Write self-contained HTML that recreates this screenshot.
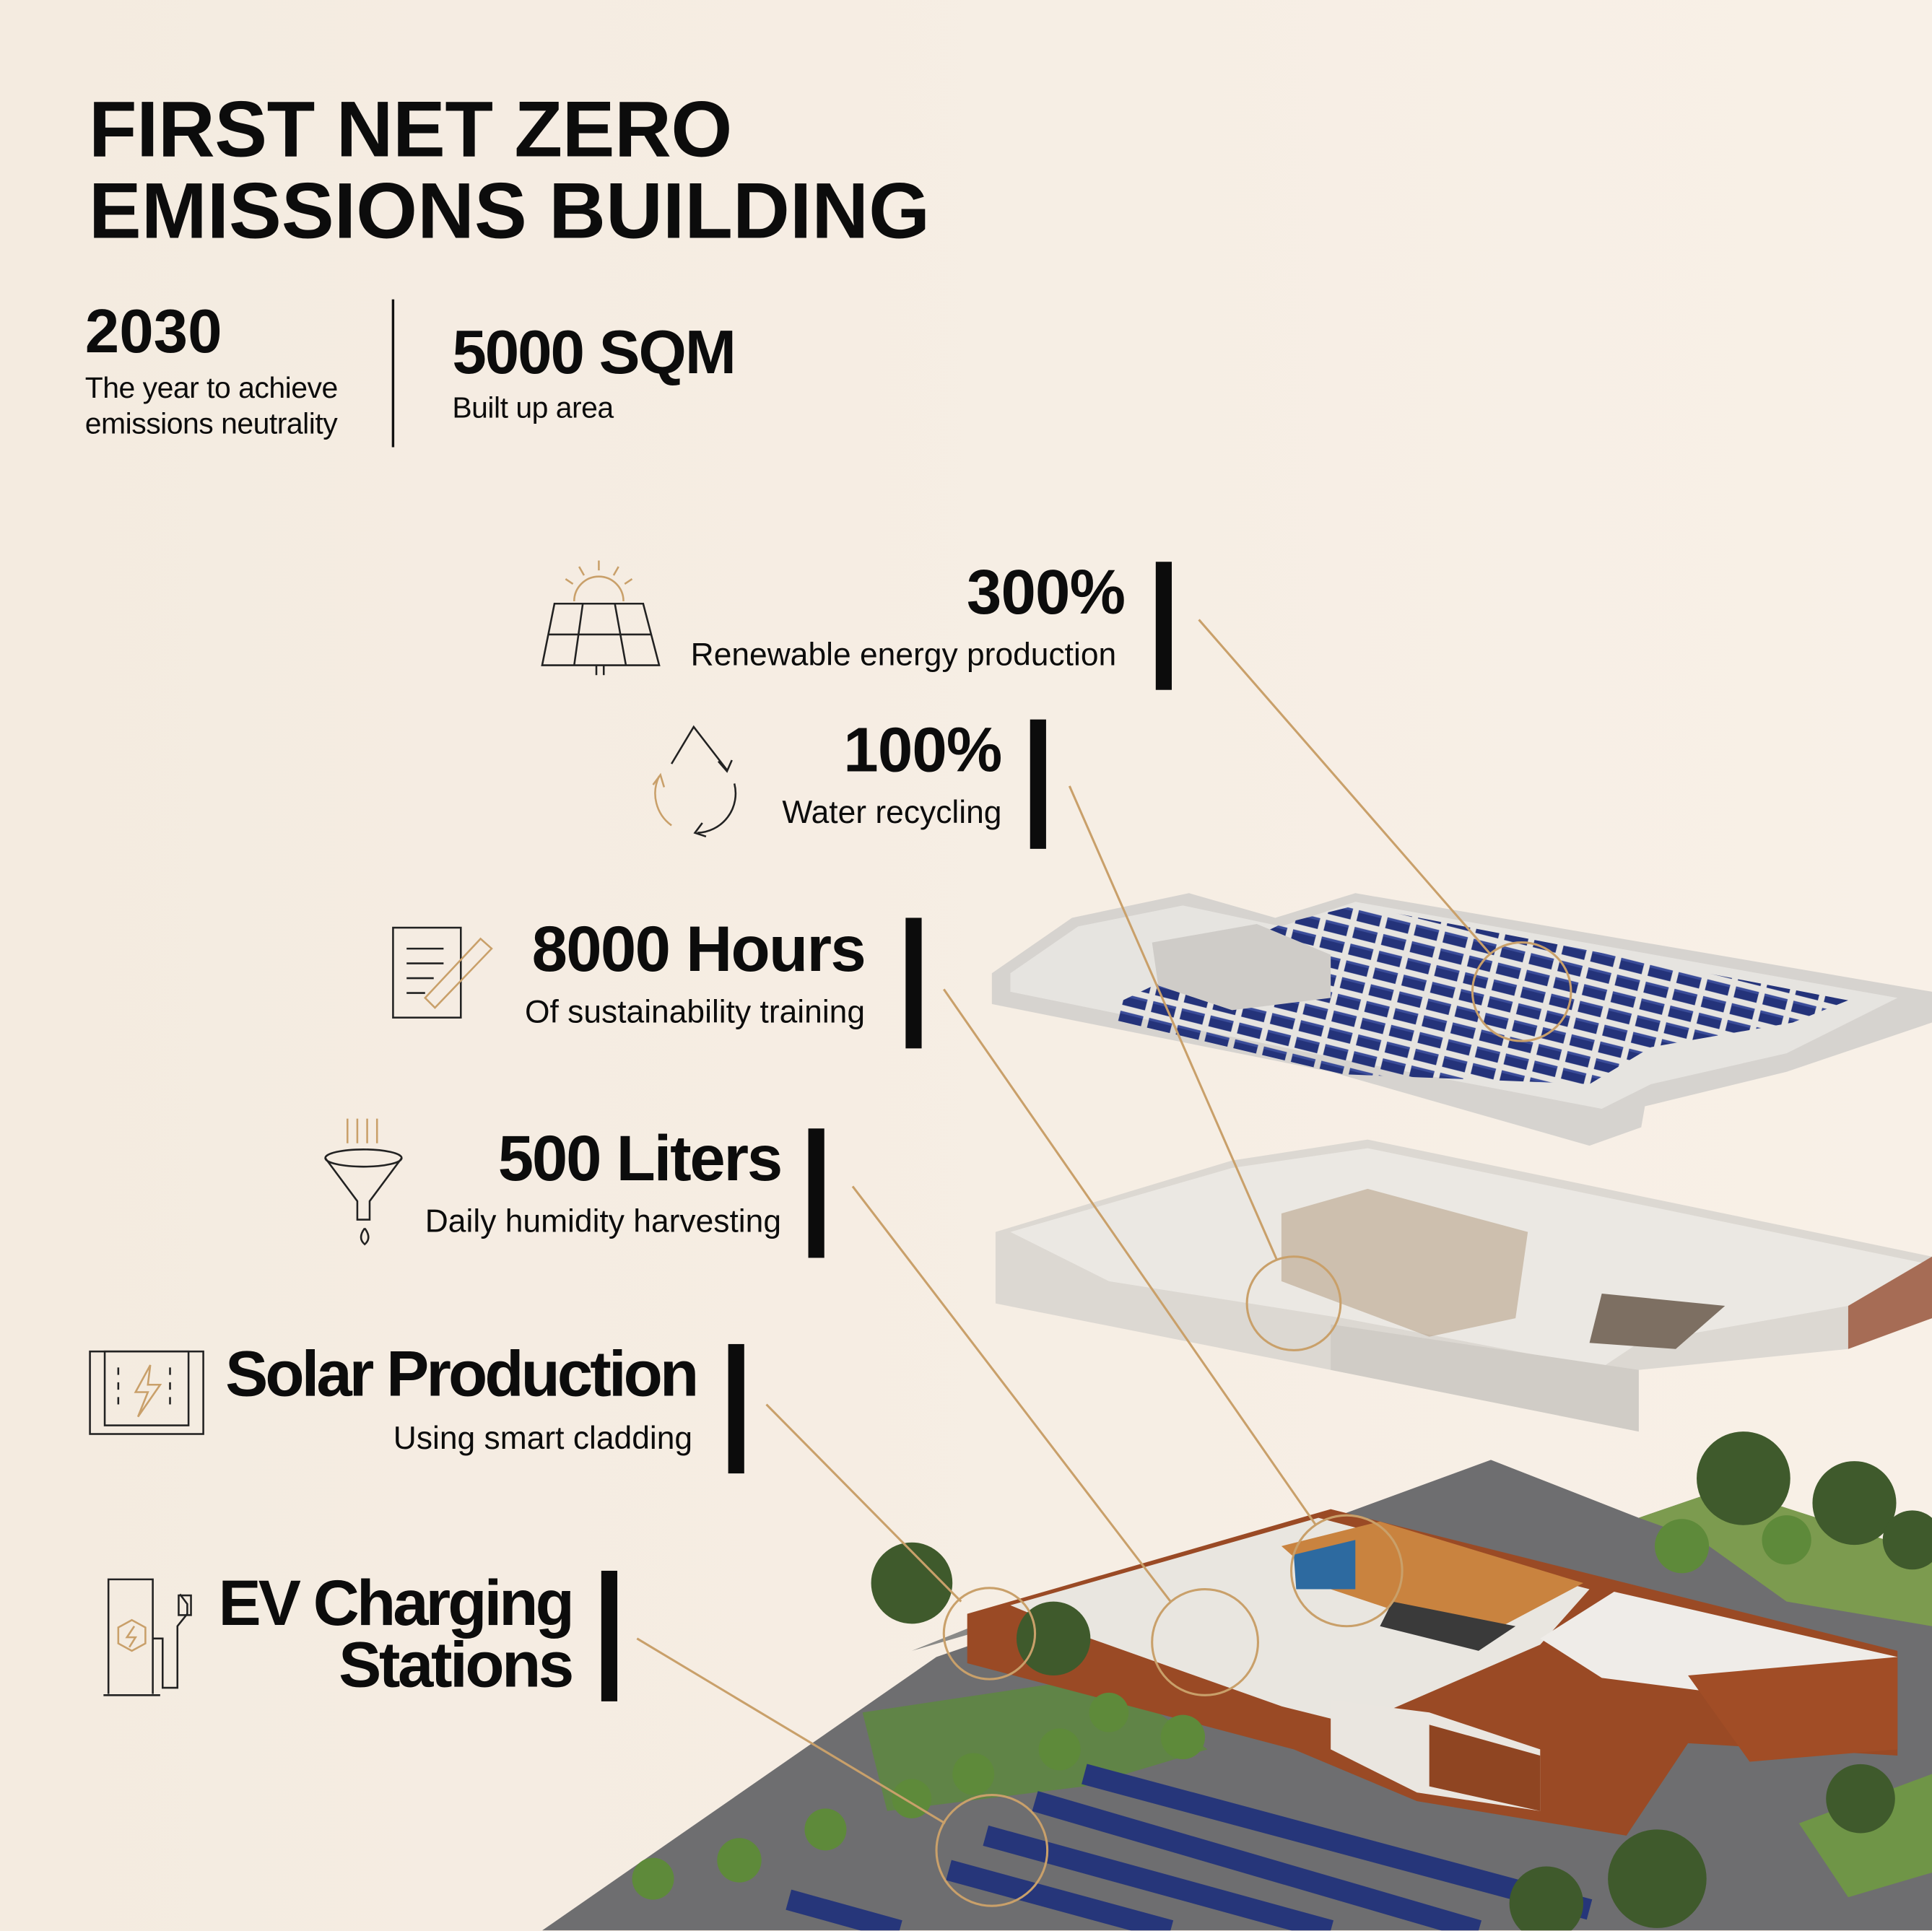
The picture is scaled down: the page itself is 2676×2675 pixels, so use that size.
<!DOCTYPE html>
<html><head><meta charset="utf-8"><style>
html,body{margin:0;padding:0;}
body{width:2676px;height:2675px;overflow:hidden;background:#f6ede3;}
#c{position:absolute;left:0;top:0;width:1568px;height:1567px;transform:scale(1.70663);transform-origin:0 0;background:linear-gradient(90deg,#f4ebe0,#f8f0e7);font-family:"Liberation Sans",sans-serif;color:#0c0c0c;}
.t{position:absolute;white-space:nowrap;line-height:1;}
.b{font-weight:bold;}
.r{text-align:right;}
.bar{position:absolute;background:#0c0c0c;width:13px;}
svg{position:absolute;left:0;top:0;}
</style></head><body><div id="c">
<svg width="1568" height="1567" viewBox="0 0 1568 1567">
<defs>
<pattern id="pv" width="24" height="14" patternUnits="userSpaceOnUse" patternTransform="rotate(14)">
<rect x="1" y="2" width="19" height="9" fill="#24337a"/><rect x="1" y="2" width="19" height="2" fill="#3b4d9a"/>
</pattern>
</defs>
<polygon points="440,1567 760,1345 1000,1262 1210,1185 1330,1232 1400,1208 1568,1275 1568,1567" fill="#6e6e70"/>
<polygon points="1330,1232 1400,1208 1568,1262 1568,1320 1450,1300 1380,1250" fill="#7c9b4f"/>
<polygon points="740,1340 1000,1265 1060,1250 790,1320" fill="#8a8a88"/>
<polygon points="700,1390 900,1360 980,1420 880,1450 720,1470" fill="#5d8a3d" opacity=".8"/>
<polygon points="1460,1480 1568,1440 1568,1520 1500,1540" fill="#6f9547"/>
<g stroke="#26367a" stroke-width="17" stroke-linecap="butt">
<line x1="880" y1="1440" x2="1290" y2="1550"/>
<line x1="840" y1="1462" x2="1200" y2="1567"/>
<line x1="800" y1="1490" x2="1080" y2="1567"/>
<line x1="770" y1="1518" x2="950" y2="1567"/>
<line x1="640" y1="1542" x2="730" y2="1567"/>
</g>
<polygon points="785,1310 1080,1225 1300,1280 1540,1340 1540,1425 1370,1415 1320,1490 1150,1462 1050,1420 785,1350" fill="#9a4a25"/>
<polygon points="820,1303 1070,1232 1290,1290 1250,1335 1100,1400 1040,1385 885,1330" fill="#e9e6e0"/>
<polygon points="1040,1255 1120,1235 1285,1285 1200,1330 1080,1290" fill="#c9833f"/>
<polygon points="1050,1262 1100,1250 1100,1290 1052,1290" fill="#2d6aa0"/>
<polygon points="1130,1300 1230,1320 1200,1340 1120,1320" fill="#3a3a3a"/>
<polygon points="1250,1330 1310,1292 1540,1345 1480,1385 1300,1362" fill="#efece8"/>
<polygon points="1370,1360 1540,1345 1540,1420 1420,1430" fill="#a14d26"/>
<polygon points="1080,1380 1160,1390 1250,1420 1250,1470 1150,1455 1080,1420" fill="#eae6e0"/>
<polygon points="1160,1400 1250,1425 1250,1470 1160,1450" fill="#8f4522"/>
<g fill="#3f5a2c">
<circle cx="1415" cy="1200" r="38"/><circle cx="1505" cy="1220" r="34"/><circle cx="1552" cy="1250" r="24"/>
<circle cx="740" cy="1285" r="33"/><circle cx="855" cy="1330" r="30"/><circle cx="1345" cy="1525" r="40"/><circle cx="1510" cy="1460" r="28"/>
<circle cx="1255" cy="1545" r="30"/>
</g>
<g fill="#5e8a3a"><circle cx="1365" cy="1255" r="22"/><circle cx="1450" cy="1250" r="20"/><circle cx="960" cy="1410" r="18"/><circle cx="900" cy="1390" r="16"/><circle cx="860" cy="1420" r="17"/>
<circle cx="790" cy="1440" r="17"/><circle cx="740" cy="1460" r="16"/><circle cx="670" cy="1485" r="17"/><circle cx="600" cy="1510" r="18"/><circle cx="530" cy="1525" r="17"/></g>
<polygon points="808,1000 1000,942 1110,925 1568,1020 1568,1070 1500,1095 1330,1112 1330,1162 1080,1112 808,1058" fill="#dcd8d2"/>
<polygon points="820,1000 1000,948 1110,932 1560,1025 1500,1060 1330,1090 1300,1110 1090,1070 900,1040" fill="#ebe8e3"/>
<polygon points="1040,985 1110,965 1240,1000 1230,1070 1160,1085 1040,1040" fill="#b9a48a" opacity=".6"/>
<polygon points="1300,1050 1400,1060 1360,1095 1290,1090" fill="#7d6f62"/>
<polygon points="1500,1060 1568,1020 1568,1070 1500,1095" fill="#8f3f20" opacity=".7"/>
<polygon points="1080,1112 1330,1162 1330,1112 1080,1075" fill="#d0ccc6"/>
<polygon points="805,790 870,745 965,725 1035,745 1100,725 1568,805 1568,830 1450,870 1335,898 1332,915 1290,930 1080,870 805,815" fill="#d6d3cf"/>
<polygon points="820,790 875,752 960,735 1040,752 1100,732 1540,810 1450,855 1340,880 1300,900 1090,860 820,805" fill="#e6e4e0"/>
<polygon points="905,815 1040,750 1100,735 1500,812 1455,830 1340,850 1290,880 1090,872 905,828" fill="url(#pv)"/>
<polygon points="935,765 1020,750 1080,775 1080,810 1000,820 940,800" fill="#cfccc8"/>
<g stroke="#c9a06a" stroke-width="1.8" fill="none">
<line x1="973" y1="503" x2="1210" y2="775"/>
<line x1="868" y1="638" x2="1036" y2="1022"/>
<line x1="766" y1="803" x2="1068" y2="1238"/>
<line x1="692" y1="963" x2="950" y2="1300"/>
<line x1="622" y1="1140" x2="780" y2="1300"/>
<line x1="517" y1="1330" x2="767" y2="1480"/>
<circle cx="1235" cy="805" r="40"/>
<circle cx="1050" cy="1058" r="38"/>
<circle cx="1093" cy="1275" r="45"/>
<circle cx="978" cy="1333" r="43"/>
<circle cx="803" cy="1326" r="37"/>
<circle cx="805" cy="1502" r="45"/>
</g>
<rect x="318" y="243" width="2" height="120" fill="#111"/>
<g fill="none" stroke="#222" stroke-width="1.5">
<path d="M466,488 a20,20 0 0 1 40,0" stroke="#c9a06a"/>
<g stroke="#c9a06a"><line x1="486" y1="455" x2="486" y2="463"/><line x1="470" y1="460" x2="474" y2="467"/><line x1="502" y1="460" x2="498" y2="467"/><line x1="459" y1="470" x2="465" y2="474"/><line x1="513" y1="470" x2="507" y2="474"/></g>
<polygon points="450,490 522,490 535,540 440,540"/>
<line x1="445" y1="515" x2="529" y2="515"/><line x1="473" y1="490" x2="466" y2="540"/><line x1="499" y1="490" x2="508" y2="540"/>
<line x1="484" y1="540" x2="484" y2="548"/><line x1="490" y1="540" x2="490" y2="548"/>
<path d="M545,620 L563,590 L590,625"/><path d="M583,618 l7,8 l4,-9"/>
<path d="M596,636 a32,32 0 0 1 -30,40"/><path d="M570,668 l-6,8 l9,3"/>
<path d="M545,670 a32,32 0 0 1 -10,-40" stroke="#c9a06a"/><path d="M530,637 l6,-8 l3,10" stroke="#c9a06a"/>
<rect x="319" y="753" width="55" height="73"/><line x1="330" y1="770" x2="360" y2="770"/><line x1="330" y1="782" x2="360" y2="782"/><line x1="330" y1="794" x2="352" y2="794"/><line x1="330" y1="806" x2="345" y2="806"/>
<path d="M345,810 L390,762 L399,770 L353,818 Z" stroke="#c9a06a"/>
<g stroke="#c9a06a"><path d="M282,908 v20"/><path d="M290,908 v20"/><path d="M298,908 v20"/><path d="M306,908 v20"/></g>
<ellipse cx="295" cy="940" rx="31" ry="7"/><path d="M264,940 L290,975 L290,990 L300,990 L300,975 L326,940"/><path d="M296,997 q-6,8 0,13 q6,-5 0,-13" />
<rect x="73" y="1097" width="92" height="67"/><rect x="85" y="1097" width="68" height="60"/>
<g stroke-dasharray="6,6"><line x1="96" y1="1110" x2="96" y2="1145"/><line x1="138" y1="1110" x2="138" y2="1145"/></g>
<path d="M122,1108 L110,1130 L120,1130 L112,1150 L130,1124 L120,1124 Z" stroke="#c9a06a"/>
<path d="M88,1375 V1282 H124 V1375"/><line x1="84" y1="1376" x2="130" y2="1376"/>
<path d="M124,1330 h8 v40 h12 v-50 l8,-10 v-8 l-6,-8"/><rect x="145" y="1295" width="10" height="16"/>
<polygon points="107,1315 118,1321 118,1334 107,1340 96,1334 96,1321" stroke="#c9a06a"/>
<path d="M109,1320 L103,1329 L110,1329 L105,1337" stroke="#c9a06a"/>
</g>
</svg>
<div class="t b" style="left:72px;top:73px;font-size:64px;letter-spacing:-0.3px;">FIRST NET ZERO</div>
<div class="t b" style="left:72px;top:139px;font-size:64px;letter-spacing:0px;">EMISSIONS BUILDING</div>
<div class="t b" style="left:69px;top:244px;font-size:50px;letter-spacing:0px;">2030</div>
<div class="t" style="left:69px;top:304px;font-size:24px;letter-spacing:-0.3px;">The year to achieve</div>
<div class="t" style="left:69px;top:333px;font-size:24px;letter-spacing:-0.3px;">emissions neutrality</div>
<div class="t b" style="left:367px;top:261px;font-size:50px;letter-spacing:-1.2px;">5000 SQM</div>
<div class="t" style="left:367px;top:320px;font-size:24px;letter-spacing:-0.3px;">Built up area</div>

<div class="t b r" style="right:655px;top:455px;font-size:51px;letter-spacing:-0.5px;">300%</div>
<div class="t r" style="right:662px;top:518px;font-size:26px;letter-spacing:0px;">Renewable energy production</div>
<div class="bar" style="left:938px;top:456px;height:104px;"></div>

<div class="t b r" style="right:755px;top:583px;font-size:51px;letter-spacing:-0.5px;">100%</div>
<div class="t r" style="right:755px;top:646px;font-size:26px;letter-spacing:0px;">Water recycling</div>
<div class="bar" style="left:836px;top:584px;height:105px;"></div>

<div class="t b r" style="right:866px;top:745px;font-size:52px;letter-spacing:-1px;">8000 Hours</div>
<div class="t r" style="right:866px;top:808px;font-size:26px;letter-spacing:0px;">Of sustainability training</div>
<div class="bar" style="left:735px;top:745px;height:106px;"></div>

<div class="t b r" style="right:934px;top:915px;font-size:52px;letter-spacing:-1.3px;">500 Liters</div>
<div class="t r" style="right:934px;top:978px;font-size:26px;letter-spacing:0px;">Daily humidity harvesting</div>
<div class="bar" style="left:656px;top:916px;height:105px;"></div>

<div class="t b r" style="right:1003px;top:1090px;font-size:52px;letter-spacing:-2.3px;">Solar Production</div>
<div class="t r" style="right:1006px;top:1154px;font-size:26px;letter-spacing:0px;">Using smart cladding</div>
<div class="bar" style="left:591px;top:1091px;height:105px;"></div>

<div class="t b r" style="right:1104px;top:1276px;font-size:52px;letter-spacing:-2.3px;">EV Charging</div>
<div class="t b r" style="right:1104px;top:1326px;font-size:52px;letter-spacing:-2px;">Stations</div>
<div class="bar" style="left:488px;top:1275px;height:106px;"></div>
</div></body></html>
